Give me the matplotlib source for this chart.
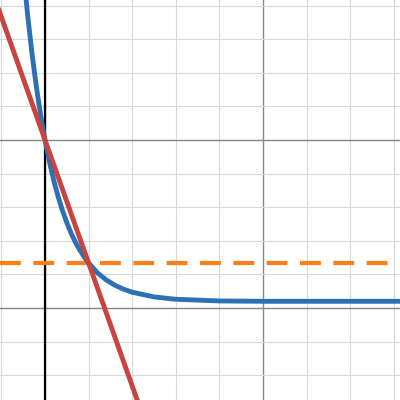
import matplotlib
matplotlib.use('Agg')
import matplotlib.pyplot as plt
import numpy as np

# values (grid units: 1 minor square = 1)
curve_x = [-0.5, -0.4, -0.3, -0.2, -0.1, 0.0, 0.1, 0.2, 0.3, 0.4, 0.5, 0.6, 0.7, 0.8,
           0.9, 1.0, 1.2, 1.4, 1.6, 1.8, 2.0, 2.5, 3.0, 4.0, 5.0, 8.5]
curve_y = [15.06, 13.74, 12.59, 11.60, 10.74, 10.0, 9.36, 8.80, 8.32, 7.90, 7.54, 7.22,
           6.95, 6.72, 6.52, 6.34, 6.05, 5.84, 5.68, 5.56, 5.47, 5.33, 5.26, 5.21, 5.20, 5.20]
tangent_x = [-1.5, 2.5]
tangent_y = [15.49, 0.85]
level_y = 6.34

x_min, x_max = -45 / 43.6, 355 / 43.6
y_min, y_max = 5 - 92 / 33.6, 10 + 140 / 33.6

fig = plt.figure(figsize=(4, 4), dpi=100)
ax = fig.add_axes([0, 0, 1, 1])
ax.set_xlim(x_min, x_max)
ax.set_ylim(y_min, y_max)

# grid
for gx in np.arange(-1, 9):
    major = gx % 5 == 0
    ax.axvline(gx, color='#888888' if major else '#d8d8d8', lw=1.0 if major else 0.8, zorder=0)
for gy in np.arange(2, 15):
    major = gy % 5 == 0
    ax.axhline(gy, color='#888888' if major else '#d8d8d8', lw=1.0 if major else 0.8, zorder=0)
ax.axvline(0, color='black', lw=1.6, zorder=1)

ax.plot(curve_x, curve_y, color='#2d70b3', lw=3.5, solid_capstyle='round', zorder=3)
ax.plot(tangent_x, tangent_y, color='#c74440', lw=3.5, zorder=4)
ax.axhline(level_y, color='#fa7e19', lw=3.0, dashes=(5, 3), zorder=2)

ax.set_xticks([])
ax.set_yticks([])
for s in ax.spines.values():
    s.set_visible(False)

plt.savefig('out.png', dpi=100)
plt.close()
